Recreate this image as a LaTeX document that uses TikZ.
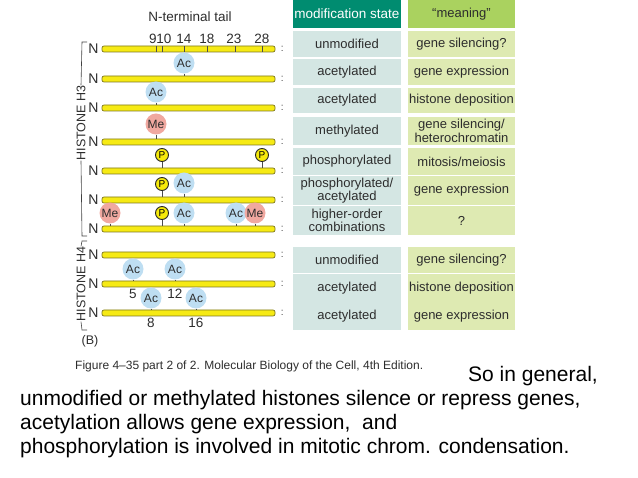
\documentclass[tikz,border=0pt]{standalone}
\usepackage{fontspec}
\setmainfont{Liberation Sans}
\usetikzlibrary{positioning}

\definecolor{barfill}{RGB}{246,234,20}
\definecolor{barline}{RGB}{125,118,30}
\definecolor{acblue}{RGB}{190,222,242}
\definecolor{mepink}{RGB}{240,168,160}
\definecolor{pyellow}{RGB}{246,234,10}
\definecolor{headteal}{RGB}{0,140,112}
\definecolor{headgreen}{RGB}{170,210,95}
\definecolor{statebox}{RGB}{212,230,227}
\definecolor{meanbox}{RGB}{222,234,178}
\definecolor{figtext}{RGB}{45,45,45}

\tikzset{
  tail/.style={draw=barline, fill=barfill, line width=0.7pt, rounded corners=2pt,
    minimum width=173pt, minimum height=6pt, inner sep=0pt},
  nterm/.style={font=\fontsize{14}{14}\selectfont, text=figtext, inner sep=0pt},
  modc/.style={circle, inner sep=0pt, minimum size=21pt, text=figtext,
    font=\fontsize{12}{12}\selectfont},
  ac/.style={modc, fill=acblue},
  me/.style={modc, fill=mepink},
  ph/.style={circle, draw=black!85, line width=0.9pt, fill=pyellow, inner sep=0pt,
    minimum size=13pt, font=\fontsize{10}{10}\selectfont},
  stem/.style={draw=black!70, line width=0.6pt},
  resnum/.style={font=\fontsize{13.5}{13.5}\selectfont, text=figtext, inner sep=0pt},
  statecell/.style={fill=statebox, minimum width=108pt, align=center,
    inner sep=0pt, text=figtext, font=\fontsize{13}{13.5}\selectfont},
  meancell/.style={statecell, fill=meanbox, minimum width=107pt},
  bracket/.style={draw=black!75, line width=0.6pt},
  slide/.style={font=\fontsize{21}{24}\selectfont, anchor=base west, inner sep=0pt}
}

\begin{document}
\begin{tikzpicture}[x=1pt, y=-1pt]
  \useasboundingbox (0,0) rectangle (638,478);

  % tails with N ends
  \foreach \i/\y in {1/49,2/79,3/108,4/142,5/171,6/200,7/229,8/255,9/284,10/313} {
    \node[tail] (t\i) at (188.5,\y) {};
    \node[nterm, left=3pt of t\i] (n\i) {N};
    \node[font=\fontsize{10}{10}\selectfont, text=black!70, right=2pt of t\i] (e\i) {:};
  }
  \node[nterm, font=\fontsize{13.5}{13.5}\selectfont] (title) at (190,17) {N-terminal tail};

  % residue numbers on the top tail
  \foreach \r/\x/\lx in {9/156/153,10/162/164,14/184/184,18/207/207,23/235/234,28/262/262} {
    \draw[stem] (\x,46.5) -- (\x,52);
    \node[resnum] (r\r) at (\lx,39) {\r};
  }

  % histone H3 marks
  \node[ac] (a2) at (184,63) {Ac};
  \node[ac] (a3) at (156,92) {Ac};
  \node[me] (m4) at (156,124) {Me};
  \node[ph] (p5a) at (162,155) {P};
  \node[ph] (p5b) at (262,155) {P};
  \node[ph] (p6) at (162,184) {P};
  \node[ac] (a6) at (184,183) {Ac};
  \node[me] (m7a) at (110,213) {Me};
  \node[ph] (p7) at (162,213) {P};
  \node[ac] (a7a) at (184,213) {Ac};
  \node[ac] (a7b) at (236,213) {Ac};
  \node[me] (m7b) at (255,213) {Me};
  \foreach \m/\t in {a2/2,a3/3,m4/4,p5a/5,p5b/5,p6/6,a6/6,m7a/7,p7/7,a7a/7,a7b/7,m7b/7}
    \draw[stem] (\m.south) -- (\m.south |- t\t.north);

  % histone H4 marks
  \node[ac] (a9a) at (133,269) {Ac};
  \node[ac] (a9b) at (175,269) {Ac};
  \node[ac] (a10a) at (151,298) {Ac};
  \node[ac] (a10b) at (196,298) {Ac};
  \foreach \m/\t in {a9a/9,a9b/9,a10a/10,a10b/10}
    \draw[stem] (\m.south) -- (\m.south |- t\t.north);
  \node[resnum, below=2pt of t9.south -| a9a] (k5) {5};
  \node[resnum, below=2pt of t9.south -| a9b] (k12) {12};
  \node[resnum, below=2pt of t10.south -| a10a] (k8) {8};
  \node[resnum, below=2pt of t10.south -| a10b] (k16) {16};

  % brackets
  \node[resnum, rotate=90, font=\fontsize{12.5}{12.5}\selectfont] (h3) at (81,123) {HISTONE H3};
  \node[resnum, rotate=90, font=\fontsize{12.5}{12.5}\selectfont] (h4) at (81,284) {HISTONE H4};
  \draw[bracket] (87,42) -- (82,42) -- (h3.east);
  \draw[bracket] (h3.west) -- (82,236) -- (87,236);
  \draw[bracket] (87,241) -- (82,241) -- (h4.east);
  \draw[bracket] (h4.west) -- (82,330) -- (87,330);
  \node[resnum, font=\fontsize{12.5}{12.5}\selectfont] (lb) at (90,341) {(B)};

  % table
  \node[statecell, fill=headteal, text=white, minimum height=28pt,
    font=\fontsize{13.5}{13.5}\selectfont] (s0) at (347,14) {modification state};
  \node[meancell, fill=headgreen, minimum height=28pt] (m0) at (461.5,14) {“meaning”};
  \foreach \i/\y/\h/\st/\mn in {
      1/44/26/unmodified/gene silencing?,
      2/72/26/acetylated/gene expression,
      3/100.5/25/acetylated/histone deposition,
      4/131/28/methylated/{gene silencing/\\heterochromatin},
      5/161.5/27/phosphorylated/{mitosis/meiosis},
      6/190.5/29/{phosphorylated/\\acetylated}/gene expression,
      7/220.5/29/{higher-order\\combinations}/?,
      8/260/26/unmodified/gene silencing?,
      9/288/28/acetylated/histone deposition,
      10/316.5/28/acetylated/gene expression} {
    \node[statecell, minimum height=\h pt] (s\i) at (347,\y) {\st};
    \node[meancell, minimum height=\h pt] (m\i) at (461.5,\y) {\mn};
  }

  % caption and remarks
  \node[anchor=base west, inner sep=0pt, text=figtext, font=\fontsize{12}{12}\selectfont]
    (cap) at (75,370) {Figure 4–35 part 2 of 2. Molecular Biology of the Cell, 4th Edition.};
  \node[slide] (l0) at (468,382) {So in general,};
  \node[slide] (l1) at (20,406) {unmodified or methylated histones silence or repress genes,};
  \node[slide] (l2) at (20,430) {acetylation allows gene expression,\ \ and};
  \node[slide] (l3) at (20,454) {phosphorylation is involved in mitotic chrom. condensation.};
\end{tikzpicture}
\end{document}
